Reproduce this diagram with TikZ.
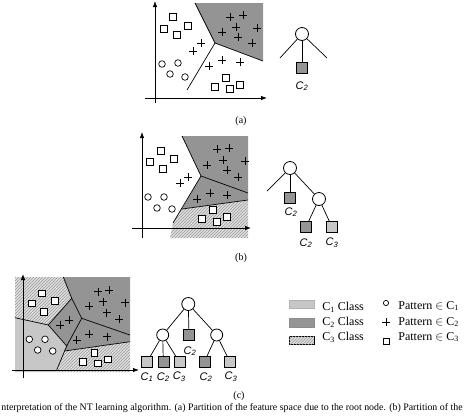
\documentclass[tikz,border=0pt]{standalone}
\usepackage{fontspec}
\setmainfont{Liberation Serif}
\setsansfont{Liberation Sans}
\usetikzlibrary{arrows.meta,patterns}

\tikzset{
  axis/.style = {line width=0.8pt, -{Latex[length=6pt,width=4.5pt]}},
  cut/.style = {line width=0.7pt},
  classone/.style = {fill=black!22},
  classtwo/.style = {fill=black!42},
  classthree/.style = {fill=black!12, postaction={pattern=north east lines, pattern color=black!40}},
  split/.style = {circle, draw, line width=0.8pt, fill=white, minimum size=13pt, inner sep=0pt},
  leaf/.style = {rectangle, draw, line width=0.5pt, minimum size=11pt, inner sep=0pt},
  leaflabel/.style = {font=\sffamily\itshape\fontsize{11}{12}\selectfont, inner sep=0pt},
  panel/.style = {font=\fontsize{10}{11}\selectfont, inner sep=0pt},
}

\begin{document}
\begin{tikzpicture}[x=1pt, y=-1pt, line width=0.7pt]
    \useasboundingbox (0,0) rectangle (474,416);

    % ---------- (a) feature space ----------
    \fill [classtwo] (195,3) -- (215,43) -- (263,61) -- (263,3) -- cycle;
    \draw [cut] (195,3) -- (215,43) -- (263,61);
    \draw [cut] (215,43) -- (187,90);
    \draw [axis] (155,103) -- (155,1);
    \draw [axis] (145,98) -- (267,98);
    \foreach \x/\y in {173/17,164/29,188/26,177/35,226/78,215/87,230/89,240/85}
        \draw [fill=white] (\x-3.3,\y-3.3) rectangle (\x+3.3,\y+3.3);
    \foreach \x/\y in {162/64,178/63,170/74,185/77}
        \draw (\x,\y) circle (3.3);
    \foreach \x/\y in {193/51,201/43,230/17,243/15,236/27,222/32,257/28,238/37,252/43,209/66,222/60,240/62}
        \draw (\x-4,\y) -- (\x+4,\y) (\x,\y-4) -- (\x,\y+4);

    % ---------- (a) tree ----------
    \node [split] (rootA) at (302,34) {};
    \node [leaf, classtwo] (leafA) at (302,68) {};
    \coordinate (openAl) at (280,58);
    \coordinate (openAr) at (327,58);
    \draw (rootA) -- (leafA);
    \draw (rootA) -- (openAl);
    \draw (rootA) -- (openAr);
    \node [leaflabel] (labA) at (302,86) {C\textsubscript{2}};
    \node [panel] (capA) at (241,121) {(a)};

    % ---------- (b) feature space ----------
    \fill [classtwo] (182,136) -- (201,176) -- (248,193) -- (248,136) -- cycle;
    \fill [classtwo] (201,176) -- (248,193) -- (248,200) -- (182,209) -- cycle;
    \fill [classthree] (182,209) -- (248,200) -- (248,238) -- (170,238) -- (173,223) -- cycle;
    \draw [cut] (182,136) -- (201,176) -- (248,193);
    \draw [cut] (201,176) -- (173,223);
    \draw [cut] (182,209) -- (248,200);
    \draw [axis] (142,238) -- (142,132);
    \draw [axis] (132,228) -- (251,228);
    \foreach \x/\y in {161/151,150/162,174/159,163/169,213/210,202/219,217/222,227/217}
        \draw [fill=white] (\x-3.3,\y-3.3) rectangle (\x+3.3,\y+3.3);
    \foreach \x/\y in {148/197,164/197,157/208,172/209}
        \draw (\x,\y) circle (3.3);
    \foreach \x/\y in {180/183,188/177,217/149,229/148,223/160,207/165,245/161,227/170,238/177,210/193,197/199,227/195}
        \draw (\x-4,\y) -- (\x+4,\y) (\x,\y-4) -- (\x,\y+4);

    % ---------- (b) tree ----------
    \node [split] (rootB) at (290,168) {};
    \node [leaf, classtwo] (leafB) at (290,198) {};
    \node [split] (kidB) at (319,199) {};
    \node [leaf, classtwo] (leafBl) at (306,227) {};
    \node [leaf, classone] (leafBr) at (332,227) {};
    \coordinate (openB) at (267,191);
    \draw (rootB) -- (openB);
    \draw (rootB) -- (leafB);
    \draw (rootB) -- (kidB);
    \draw (kidB) -- (leafBl);
    \draw (kidB) -- (leafBr);
    \node [leaflabel] (labB) at (291,212) {C\textsubscript{2}};
    \node [leaflabel] (labBl) at (306,243) {C\textsubscript{2}};
    \node [leaflabel] (labBr) at (332,243) {C\textsubscript{3}};
    \node [panel] (capB) at (241,258) {(b)};

    % ---------- (c) feature space ----------
    \fill [classthree] (15,277) -- (63.3,277) -- (71.7,298.3) -- (48.3,325) -- (15,317.7) -- cycle;
    \fill [classtwo] (63.3,277) -- (130,277) -- (130,335) -- (81.7,318.3) -- (71.7,298.3) -- cycle;
    \fill [classtwo] (71.7,298.3) -- (81.7,318.3) -- (66.7,346) -- (48.3,325) -- cycle;
    \fill [classone] (15,317.7) -- (48.3,325) -- (66.7,346) -- (56.7,372) -- (15,372) -- cycle;
    \fill [classtwo] (81.7,318.3) -- (130,335) -- (130,341.7) -- (64.6,351) -- (66.7,346) -- cycle;
    \fill [classthree] (64.6,351) -- (130,341.7) -- (130,372) -- (56.7,372) -- cycle;
    \draw [cut] (63.3,277) -- (71.7,298.3);
    \draw [cut] (71.7,298.3) -- (81.7,318.3) -- (66.7,346) -- (48.3,325) -- cycle;
    \draw [cut] (48.3,325) -- (15,317.7);
    \draw [cut] (81.7,318.3) -- (130,335);
    \draw [cut] (66.7,346) -- (56.7,370);
    \draw [cut] (64.6,351) -- (130,341.7);
    \draw [axis] (23,378) -- (23,274);
    \draw [axis] (12,370) -- (139,370);
    \foreach \x/\y in {41.7/293.3,31.7/303.3,55/301,44/311.7,94.3/352.7,82.7/361.7,97.7/363.3,107.7/359.3}
        \draw [fill=white] (\x-3.3,\y-3.3) rectangle (\x+3.3,\y+3.3);
    \foreach \x/\y in {29.3/339.3,45/339.3,37.7/350,52.7/351}
        \draw [fill=white] (\x,\y) circle (3.3);
    \foreach \x/\y in {60/325,69.3/320,98.3/291.7,109.3/290,103.3/301.7,89/306,125/302.7,106.7/312.7,119.3/319.3,76.7/340,89.3/334.3,107.3/336.7}
        \draw (\x-4,\y) -- (\x+4,\y) (\x,\y-4) -- (\x,\y+4);

    % ---------- (c) tree ----------
    \node [split] (rootC) at (188.3,304) {};
    \node [split, minimum size=12pt] (kidCl) at (162.7,335) {};
    \node [leaf, classtwo] (leafCm) at (189,335) {};
    \node [split, minimum size=12pt] (kidCr) at (216.7,335) {};
    \node [leaf, classone] (leafC1) at (147,362) {};
    \node [leaf, classtwo] (leafC2) at (163.3,362) {};
    \node [leaf, classone] (leafC3) at (179.3,362) {};
    \node [leaf, classtwo] (leafC4) at (204.3,362) {};
    \node [leaf, classone] (leafC5) at (230,362) {};
    \draw (rootC) -- (kidCl);
    \draw (rootC) -- (leafCm);
    \draw (rootC) -- (kidCr);
    \foreach \l in {leafC1,leafC2,leafC3}
        \draw (kidCl) -- (\l);
    \foreach \l in {leafC4,leafC5}
        \draw (kidCr) -- (\l);
    \node [leaflabel] (labCm) at (190,351) {C\textsubscript{2}};
    \node [leaflabel] (labC1) at (147,377) {C\textsubscript{1}};
    \node [leaflabel] (labC2) at (163.3,377) {C\textsubscript{2}};
    \node [leaflabel] (labC3) at (179.3,377) {C\textsubscript{3}};
    \node [leaflabel] (labC4) at (206,377) {C\textsubscript{2}};
    \node [leaflabel] (labC5) at (231,377) {C\textsubscript{3}};
    \node [panel] (capC) at (239,396) {(c)};

    % ---------- legend ----------
    \draw [classone, draw=black!30, line width=0.4pt] (289,300) rectangle (314,308);
    \draw [classtwo, draw=black!45, line width=0.4pt] (289,318) rectangle (314,327);
    \draw [classthree, draw=black, line width=0.5pt] (289,336) rectangle (314,344);
    \begin{scope}[font = \fontsize{12}{13}\selectfont]
        \node [anchor=west, inner sep=0pt] (keyOne) at (322,307) {C\textsubscript{1} Class};
        \node [anchor=west, inner sep=0pt] (keyTwo) at (322,322) {C\textsubscript{2} Class};
        \node [anchor=west, inner sep=0pt] (keyThree) at (322,337) {C\textsubscript{3} Class};
        \node [anchor=west, inner sep=0pt] (patOne) at (398,306) {Pattern $\in$ C\textsubscript{1}};
        \node [anchor=west, inner sep=0pt] (patTwo) at (398,322) {Pattern $\in$ C\textsubscript{2}};
        \node [anchor=west, inner sep=0pt] (patThree) at (398,337) {Pattern $\in$ C\textsubscript{3}};
    \end{scope}
    \draw (386,303) circle (2.6);
    \draw (382,322) -- (390,322) (386,318) -- (386,326);
    \draw (383,338) rectangle (389,344);

    % ---------- caption ----------
    \node [anchor=west, inner sep=0pt, font=\fontsize{9.9}{12}\selectfont] (caption) at (1,408)
        {nterpretation of the NT learning algorithm. (a) Partition of the feature space due to the root node. (b) Partition of the};
\end{tikzpicture}
\end{document}
